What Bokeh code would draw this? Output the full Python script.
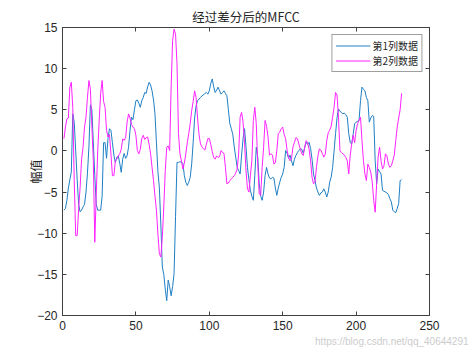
from bokeh.plotting import figure
from bokeh.models import Range1d, FixedTicker, LinearAxis, Title, Legend, LegendItem
from bokeh.embed import file_html
from bokeh.resources import INLINE

title_text = "经过差分后的MFCC"
y_label = "幅值"
series_names = ["第1列数据", "第2列数据"]
x_ticks = [0, 50, 100, 150, 200, 250]
y_ticks = [-20, -15, -10, -5, 0, 5, 10, 15]
watermark = "https://blog.csdn.net/qq_40644291"

col1 = [
    -7.2, -7.0, -6.0, -4.5, -3.5, -2.6, 4.5, 3.5, 0.0, -3.5,
    -6.5, -7.4, -7.2, -6.8, -6.5, -5.0, -2.7, 0.5, 5.6, 5.0,
    1.0, -3.0, -6.5, -7.2, -7.2, -7.2, -5.5, 1.0, 1.0, -0.9,
    1.5, 2.7, 2.5, 1.0, -0.5, -1.4, -0.8, -0.6, -1.5, -2.6,
    -1.0, -0.3, -0.9, -0.6, 0.45, 2.5, 4.1, 3.8, 5.0, 6.1,
    6.2, 5.8, 5.3, 6.1, 6.5, 7.1, 7.0, 7.8, 8.35, 8.0,
    7.3, 6.2, 4.5, 1.0, -2.5, -4.5, -9.0, -14.1, -15.0, -16.8,
    -18.2, -15.7, -16.5, -17.6, -16.5, -14.9, -8.0, -1.4, -1.4, -1.3,
    -1.4, -1.5, -3.0, -3.8, -4.2, -3.8, -3.2, -1.6, 1.0, 4.0,
    5.5, 6.1, 6.3, 6.5, 6.7, 6.8, 7.0, 7.1, 6.9, 7.3,
    8.2, 8.75, 7.8, 7.1, 7.4, 7.75, 7.3, 6.9, 7.1, 7.3,
    7.0, 6.7, 5.0, 3.3, 2.7, 2.0, 0.5, -0.75, -2.0, -2.4,
    -2.8, -0.5, 1.5, 2.7, 0.5, -2.0, -3.5, -4.8, -5.5, -6.0,
    -3.0, 0.45, -0.75, -4.0, -5.5, -6.0, -5.0, -3.0, -2.0, -2.8,
    -3.3, -3.4, -3.2, -3.3, -4.5, -5.4, -4.5, -3.8, -3.2, -2.8,
    -2.0, 0.05, -0.3, -0.9, -0.5, -1.2, -1.8, -1.0, -0.55, -0.2,
    0.05, 0.25, 0.2, -0.3, 0.4, 1.05, 0.8, 1.05, 0.3, -1.0,
    -2.8, -3.6, -4.5, -5.0, -5.4, -5.1, -5.0, -4.6, -5.0, -5.6,
    -5.0, -3.8, -3.2, -2.0, 0.0, 2.1, 4.0, 5.1, 4.8, 4.7,
    4.5, 4.6, 4.4, 4.1, 2.1, 1.0, 0.85, 2.0, 3.3, 3.5,
    3.6, 3.7, 6.1, 7.75, 7.5, 7.3, 6.5, 6.1, 3.5, 4.0,
    4.3, 4.2, -1.2, -4.0, -2.2, -2.5, -2.8, -4.8, -4.9, -5.0,
    -5.1, -5.3, -5.8, -6.2, -7.2, -7.4, -7.5, -7.0, -6.4, -3.6,
    -3.5,
]

col2 = [
    1.5, 2.9, 3.9, 4.0, 7.75, 8.35, 5.3, -3.6, -10.3, -10.3,
    -7.0, -4.4, -1.0, 0.45, 2.9, 4.1, 6.5, 8.55, 7.5, 3.0,
    -1.2, -11.1, -5.2, 0.0, 3.7, 7.0, 8.55, 6.0, 5.3, 2.5,
    1.7, 2.0, -0.35, -3.0, -3.0, -1.2, -1.0, -0.6, -0.35, 0.2,
    1.45, 1.3, 1.6, 3.5, 4.5, 4.0, 3.2, 2.9, 2.7, 1.9,
    0.05, -0.35, 0.2, 1.5, 1.9, 1.4, 1.6, 1.7, 0.8, -0.35,
    -2.0, -3.6, -5.5, -7.2, -10.1, -12.5, -12.9, -10.5, -6.8, -2.4,
    0.45, 0.6, 0.05, 7.75, 13.4, 14.8, 14.2, 10.6, 2.1, -0.35,
    -1.2, -2.2, -1.5, -0.35, 1.0, 2.1, 3.3, 4.9, 6.0, 7.3,
    6.5, 4.0, 2.0, 0.85, 0.5, 0.25, 0.1, 0.8, 1.5, 1.5,
    0.8, -0.1, -0.8, -1.0, -0.6, -0.8, -0.7, 0.05, -0.2, -0.3,
    -2.0, -4.0, -3.9, -3.6, -3.4, -3.2, -3.0, -2.7, -2.2, -0.35,
    4.1, 4.7, 3.5, 1.0, -2.4, -4.6, -5.0, -3.0, -1.2, 3.7,
    5.3, 3.3, -1.6, -5.2, -5.4, -2.0, 0.45, 3.7, 3.0, 1.7,
    -0.5, -0.35, -0.5, -1.6, -1.4, 0.05, 2.1, 2.3, 2.7, 2.9,
    2.0, 1.5, 0.05, -0.75, -1.2, -0.9, 0.5, 1.05, 1.6, 1.5,
    0.85, 0.2, -0.35, -0.55, 0.5, 1.25, 1.0, 0.2, -1.2, -3.2,
    -4.0, -3.8, -2.0, -0.6, 0.25, 0.1, -0.3, -0.75, -0.4, 1.25,
    2.2, 2.5, 3.0, 4.1, 5.3, 7.1, 6.8, 4.1, 0.05, -0.2,
    -0.35, -0.5, -0.8, -1.2, -2.8, -0.5, 0.85, 1.9, 1.0, 2.5,
    3.3, 3.7, 4.1, 1.25, -1.2, -2.8, -3.6, -1.6, -2.0, -2.6,
    -3.8, -6.0, -7.45, -4.0, -0.75, 0.45, -1.2, -2.2, -1.8, -0.35,
    -0.6, -1.6, -2.0, -1.8, -1.2, -0.5, 1.25, 2.9, 4.0, 5.0,
    7.0,
]

xs = list(range(1, len(col1) + 1))
xs2 = list(range(1, len(col2) + 1))

AX = "#404040"
p = figure(width=474, height=355, output_backend="svg", toolbar_location=None,
           x_range=Range1d(0, 250), y_range=Range1d(-20, 15),
           min_border_left=62, min_border_right=45, min_border_top=27, min_border_bottom=40)
p.xgrid.visible = False
p.ygrid.visible = False
p.outline_line_color = AX
p.outline_line_width = 1
p.background_fill_color = "white"
p.border_fill_color = "white"

p.title.text = title_text
p.title.align = "center"
p.title.text_font = "Noto Sans CJK SC"
p.title.text_font_size = "12.5px"
p.title.text_font_style = "normal"
p.title.text_color = "#262626"
p.title.standoff = 3

r1 = p.line(xs, col1, line_color="#1f7fc4", line_width=1)
r2 = p.line(xs2, col2, line_color="#ff22ff", line_width=1)

def style(ax, labels=True):
    ax.major_tick_in = 4
    ax.major_tick_out = 0
    ax.minor_tick_in = 0
    ax.minor_tick_out = 0
    ax.axis_line_color = AX
    ax.major_tick_line_color = AX
    ax.major_label_text_color = "#262626"
    ax.major_label_text_font = "Liberation Sans"
    ax.major_label_text_font_size = "12px"
    if not labels:
        ax.major_label_text_font_size = "0px"
        ax.major_label_standoff = 0

p.xaxis.ticker = FixedTicker(ticks=x_ticks)
p.yaxis.ticker = FixedTicker(ticks=y_ticks)
style(p.xaxis[0])
style(p.yaxis[0])
p.xaxis.major_label_standoff = 5
p.yaxis.major_label_standoff = 5
p.yaxis.axis_label = y_label
p.yaxis.axis_label_text_font = "Noto Sans CJK SC"
p.yaxis.axis_label_text_font_size = "12px"
p.yaxis.axis_label_text_font_style = "normal"
p.yaxis.axis_label_text_color = "#262626"
p.yaxis.axis_label_standoff = -10

top = LinearAxis(ticker=FixedTicker(ticks=x_ticks))
right = LinearAxis(ticker=FixedTicker(ticks=y_ticks))
style(top, labels=False)
style(right, labels=False)
p.add_layout(top, "above")
p.add_layout(right, "right")

wm = Title(text=watermark, align="right", offset=-39, standoff=2,
           text_font="Liberation Sans", text_font_size="10px",
           text_font_style="normal", text_color="#cccccc")
p.add_layout(wm, "below")

legend = Legend(items=[LegendItem(label=series_names[0], renderers=[r1]),
                       LegendItem(label=series_names[1], renderers=[r2])],
                location="top_right")
legend.margin = 7
legend.padding = 3
legend.spacing = 0
legend.glyph_width = 35
legend.glyph_height = 13
legend.label_height = 13
legend.label_standoff = 2
legend.label_text_font = "Noto Sans CJK SC"
legend.label_text_font_size = "10px"
legend.label_text_color = "#262626"
legend.border_line_color = AX
legend.border_line_width = 1
legend.background_fill_alpha = 1
p.add_layout(legend, "center")

open("out.html", "w").write(file_html(p, INLINE))
